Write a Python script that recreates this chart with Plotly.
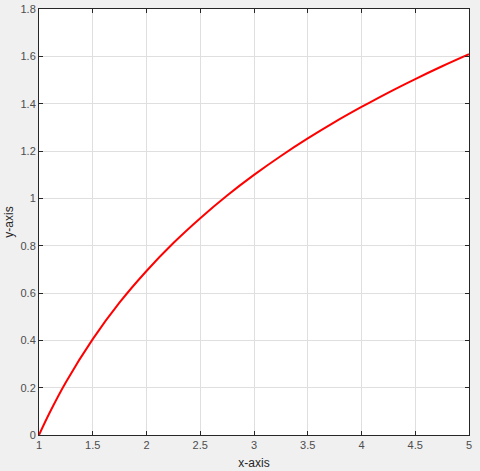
import plotly.graph_objects as go

# values
x_vals = [1.0, 1.1, 1.25, 1.5, 1.75, 2.0, 2.25, 2.5, 2.75, 3.0, 3.25, 3.5,
          3.75, 4.0, 4.25, 4.5, 4.75, 5.0]
y_vals = [0.0, 0.095, 0.223, 0.405, 0.56, 0.693, 0.811, 0.916, 1.012, 1.099,
          1.179, 1.253, 1.322, 1.386, 1.447, 1.504, 1.558, 1.609]

x_ticks = [1, 1.5, 2, 2.5, 3, 3.5, 4, 4.5, 5]
y_ticks = [0, 0.2, 0.4, 0.6, 0.8, 1, 1.2, 1.4, 1.6, 1.8]

fig = go.Figure()
fig.add_trace(go.Scatter(x=x_vals, y=y_vals, mode='lines',
                         line=dict(color='#ff0000', width=2, shape='spline'),
                         showlegend=False, cliponaxis=False))

axis_style = dict(showgrid=True, gridcolor='#dfdfdf', gridwidth=1,
                  showline=True, linecolor='#262626', linewidth=1, mirror='ticks',
                  ticks='inside', ticklen=4, tickcolor='#262626',
                  zeroline=False, automargin=False,
                  tickfont=dict(size=11, color='#4d4d4d'),
                  title_font=dict(size=12, color='#262626'))

fig.update_xaxes(range=[1, 5], tickvals=x_ticks, ticktext=[f'{v:g}' for v in x_ticks],
                 title_text='x-axis', title_standoff=8, **axis_style)
fig.update_yaxes(range=[0, 1.8], tickvals=y_ticks, ticktext=[f'{v:g}' for v in y_ticks],
                 title_text='y-axis', title_standoff=4, **axis_style)

fig.update_layout(width=480, height=471,
                  margin=dict(l=39, r=11, t=9, b=36),
                  paper_bgcolor='#f0f0f0', plot_bgcolor='#ffffff',
                  font=dict(family='Liberation Sans, Arial, sans-serif'))

# drop the page's default body margin so the figure sits at the window's corner
fig.write_html("out.html", config={'displayModeBar': False},
               post_script="document.body.style.margin='0';"
                           "document.body.style.background='#f0f0f0';")
